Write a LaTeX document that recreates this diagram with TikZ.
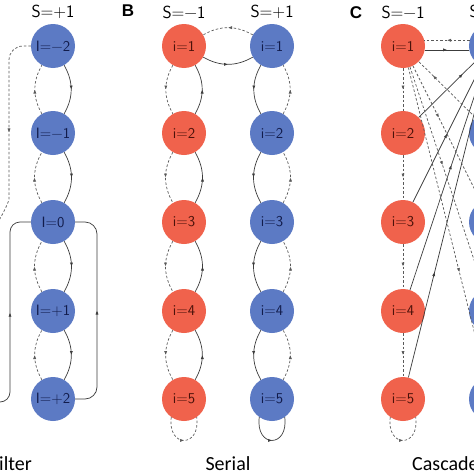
\documentclass[tikz,border=0pt]{standalone}
\usepackage{fontspec}
\newfontfamily\capfont{Carlito}
\newfontfamily\letfont{Liberation Sans}
\usetikzlibrary{arrows.meta,decorations.markings}
\definecolor{nblue}{RGB}{92,122,196}
\definecolor{nred}{RGB}{240,98,76}
\definecolor{tblue}{RGB}{18,28,75}
\definecolor{tred}{RGB}{75,18,10}
\definecolor{edgec}{RGB}{60,60,60}
\definecolor{dashc}{RGB}{90,90,90}
\tikzset{
  bnode/.style={circle,fill=nblue,minimum size=44pt,inner sep=0pt,text=tblue,font=\sffamily\fontsize{15}{15}\selectfont},
  rnode/.style={circle,fill=nred,minimum size=44pt,inner sep=0pt,text=tred,font=\sffamily\fontsize{15}{15}\selectfont},
  sol/.style={draw=edgec,line width=0.7pt},
  dsh/.style={draw=dashc,line width=0.7pt,dash pattern=on 2.5pt off 2pt},
  midarrow/.style={postaction={decorate},decoration={markings,mark=at position #1 with {\arrow{Latex[length=4pt,width=3.2pt]}}}},
  midarrow/.default=0.5,
  hdr/.style={font=\sffamily\fontsize{17.5}{17.5}\selectfont},
  plet/.style={font=\letfont\bfseries\fontsize{17}{17}\selectfont},
  capt/.style={font=\capfont\fontsize{20}{20}\selectfont,inner sep=0pt}
}
\begin{document}
\begin{tikzpicture}[x=1pt,y=1pt]
\useasboundingbox (0,0) rectangle (474,-474);
\clip (0,0) rectangle (474,-474);
\fill[white] (0,0) rectangle (474,-474);

% ---------------- Panel A ----------------
\node[hdr] (hA) at (53,-12) {S=+1};
\node[bnode] (a1) at (53,-46) {I=−2};
\node[bnode] (a2) at (53,-133) {I=−1};
\node[bnode] (a3) at (53,-222) {I=0};
\node[bnode] (a4) at (53,-311) {I=+1};
\node[bnode] (a5) at (53,-399) {I=+2};
\foreach \u/\l in {a1/a2,a2/a3,a3/a4,a4/a5} {
  \draw[sol,midarrow] (\u) to[bend left=30] (\l);
  \draw[dsh,midarrow] (\l) to[bend left=30] (\u);
}
\coordinate (aDend) at (-3,-224);
\coordinate (aLstart) at (0,-402);
\draw[dsh,midarrow=0.52,rounded corners=14pt] (a1.west) -| (9,-185) to[out=-90,in=60] (aDend);
\draw[sol,midarrow=0.47,rounded corners=10pt] (aLstart) -| (10,-222) -- (a3.west);
\draw[sol,midarrow=0.5,rounded corners=12pt] (a5.east) -| (97,-222) -- (a3.east);
\node[capt,anchor=base east] (cA) at (32,-470) {Filter};

% ---------------- Panel B ----------------
\node[plet] (lB) at (128,-11) {B};
\node[hdr] (hB1) at (184,-12) {S=−1};
\node[hdr] (hB2) at (272,-12) {S=+1};
\foreach \k/\y in {1/46,2/133,3/222,4/311,5/399} {
  \node[rnode] (br\k) at (184,-\y) {i=\k};
  \node[bnode] (bb\k) at (272,-\y) {i=\k};
}
\foreach \u/\l in {1/2,2/3,3/4,4/5} {
  \draw[sol,midarrow] (br\l) to[bend right=30] (br\u);
  \draw[dsh,midarrow] (br\u) to[bend right=30] (br\l);
  \draw[sol,midarrow] (bb\u) to[bend right=30] (bb\l);
  \draw[dsh,midarrow] (bb\l) to[bend right=30] (bb\u);
}
\draw[dsh,midarrow] (bb1) to[bend right=30] (br1);
\draw[sol,midarrow] (br1) to[bend right=30] (bb1);
\draw[dsh,midarrow] (br5.-125) .. controls +(-4,-31) and +(4,-31) .. (br5.-55);
\draw[sol,midarrow] (bb5.-125) .. controls +(-4,-31) and +(4,-31) .. (bb5.-55);
\node[capt,anchor=base] (cB) at (228,-470) {Serial};

% ---------------- Panel C ----------------
\node[plet] (lC) at (356,-12.5) {C};
\node[hdr] (hC1) at (403,-12) {S=−1};
\node[hdr] (hC2) at (491,-12) {S=+1};
\foreach \k/\y in {1/46,2/133,3/222,4/311,5/399} {
  \node[rnode] (cr\k) at (403,-\y) {i=\k};
  \node[bnode] (cb\k) at (491,-\y) {i=\k};
}
\foreach \u/\l in {1/2,2/3,3/4,4/5} {
  \draw[dsh,midarrow] (cr\u) -- (cr\l);
}
\draw[dsh,midarrow] (cr5.-125) .. controls +(-4,-31) and +(4,-31) .. (cr5.-55);
\draw[dsh,midarrow] (cb1.165) -- (cr1.15);
\draw[sol,midarrow] (cr1.-10) -- (cb1.190);
\draw[sol,midarrow=0.78] (cr2) -- (cb1);
\draw[sol,midarrow=0.5] (cr3) -- (cb1);
\draw[sol,midarrow=0.56] (cr4) -- (cb1);
\draw[sol,midarrow=0.34] (cr5) -- (cb1);
\draw[dsh,midarrow=0.75] (cb2) -- (cr1);
\draw[dsh,midarrow=0.38] (cr1) -- (cb3);
\draw[dsh,midarrow=0.44] (cr1) -- (cb4);
\draw[dsh,midarrow=0.66] (cr1) -- (cb5);
\node[capt,anchor=base west] (cC) at (412,-470) {Cascade};
\end{tikzpicture}
\end{document}
